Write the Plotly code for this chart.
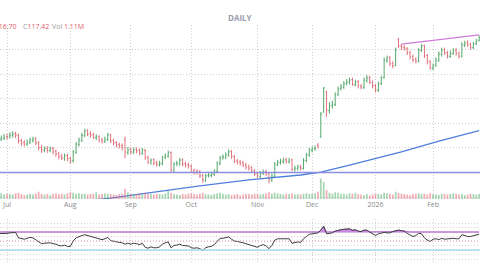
import plotly.graph_objects as go
import pandas as pd

holidays = ["2025-07-04", "2025-09-01", "2025-11-27", "2025-12-25",
            "2026-01-01", "2026-01-19", "2026-02-16"]
dates = [d.strftime("%Y-%m-%d") for d in pd.bdate_range("2025-06-25", "2026-02-25")
         if d.strftime("%Y-%m-%d") not in holidays]

open_ = [96.3, 96.6, 96.8, 97.0, 97.3, 97.2, 97.5, 97.9, 97.5, 96.5, 96.1, 95.8, 96.1, 96.5, 96.9, 96.1,
         95.1, 94.5, 94.9, 94.5, 94.9, 94.3, 93.9, 93.3, 92.9, 93.5, 92.9, 92.4, 94.1, 95.7, 96.5, 97.5,
         98.5, 97.9, 97.7, 97.1, 97.3, 96.7, 96.3, 96.7, 97.7, 96.5, 96.1, 95.7, 95.5, 96.6, 94.1, 94.7,
         94.1, 94.7, 94.5, 93.9, 94.5, 93.1, 92.0, 92.6, 92.0, 91.6, 91.8, 93.1, 93.3, 94.1, 90.4, 91.8,
         91.8, 92.6, 91.8, 91.6, 91.4, 90.4, 90.2, 90.2, 89.4, 88.4, 89.4, 89.4, 89.6, 90.2, 91.8, 93.1,
         93.1, 93.5, 94.3, 93.3, 92.4, 92.2, 92.0, 91.6, 91.2, 91.0, 90.4, 89.8, 89.2, 89.8, 90.2, 89.8,
         88.4, 89.2, 91.6, 92.0, 92.2, 92.6, 92.2, 92.6, 90.6, 90.8, 91.2, 90.8, 92.4, 93.5, 94.5, 94.9,
         95.6, 97.2, 102.3, 106.4, 102.6, 103.6, 103.8, 105.9, 107.1, 107.3, 108.1, 108.3, 108.9, 107.9, 108.5, 107.5,
         107.3, 108.7, 109.3, 108.3, 107.7, 106.7, 108.1, 109.3, 112.8, 113.4, 112.2, 111.8, 117.0, 115.8, 115.4, 115.2,
         114.4, 113.6, 113.0, 112.6, 114.8, 115.8, 113.8, 112.6, 111.2, 111.8, 112.8, 114.0, 115.0, 114.4, 113.6, 114.2,
         114.9, 114.3, 113.6, 115.9, 116.4, 116.1, 115.4, 116.2, 116.8]
high = [97.0, 97.3, 97.5, 97.8, 97.9, 98.2, 98.4, 98.3, 97.9, 96.9, 96.6, 96.7, 97.1, 97.3, 97.2, 96.4,
        95.6, 95.3, 95.4, 95.3, 95.2, 94.7, 94.2, 93.8, 93.9, 93.8, 93.2, 94.6, 96.2, 97.1, 98.1, 98.9,
        98.8, 98.4, 98.1, 97.8, 97.6, 97.1, 97.3, 98.1, 97.9, 96.9, 96.4, 96.1, 95.9, 97.3, 95.2, 95.1,
        95.1, 95.1, 94.9, 95.0, 94.8, 93.4, 92.9, 92.9, 92.4, 92.4, 93.4, 93.9, 94.5, 94.3, 92.1, 92.4,
        93.0, 92.9, 92.2, 92.0, 91.6, 90.8, 90.7, 90.5, 89.7, 89.7, 90.0, 90.2, 90.7, 92.3, 93.4, 93.7,
        94.1, 94.7, 94.6, 93.6, 92.8, 92.6, 92.4, 92.0, 91.6, 91.3, 90.7, 90.2, 90.3, 90.6, 90.6, 90.0,
        89.8, 92.1, 92.6, 92.8, 93.0, 93.0, 93.0, 92.8, 91.4, 91.6, 91.6, 92.9, 94.0, 95.0, 95.3, 95.5,
        96.0, 102.3, 107.4, 106.6, 104.3, 104.6, 106.3, 107.5, 108.0, 108.6, 109.0, 109.3, 109.3, 108.9, 108.8, 108.0,
        109.3, 109.8, 109.7, 108.7, 108.0, 108.5, 109.7, 113.4, 113.8, 113.7, 112.6, 115.4, 117.4, 116.1, 115.9, 115.5,
        114.8, 114.0, 113.4, 115.3, 116.1, 116.0, 114.1, 112.8, 112.2, 113.4, 114.6, 115.4, 115.4, 114.7, 114.8, 115.3,
        115.3, 114.6, 116.5, 116.8, 116.9, 116.4, 116.6, 117.2, 117.9]
low = [95.9, 96.2, 96.4, 96.6, 96.7, 96.9, 97.1, 97.0, 95.9, 95.4, 95.3, 95.4, 95.8, 96.1, 95.6, 94.5,
       94.0, 94.1, 94.0, 94.1, 93.7, 93.2, 92.7, 92.5, 92.4, 92.3, 91.8, 92.0, 93.8, 95.3, 96.2, 97.2,
       97.4, 97.1, 96.8, 96.6, 96.1, 95.9, 96.0, 96.4, 96.0, 95.5, 95.1, 94.9, 94.5, 92.9, 93.6, 93.7,
       93.8, 93.9, 93.5, 93.6, 92.6, 91.7, 91.6, 91.5, 91.2, 91.2, 91.5, 92.7, 93.0, 90.1, 90.1, 91.3,
       91.4, 91.3, 91.0, 90.8, 89.9, 89.6, 89.6, 88.9, 87.9, 88.1, 89.0, 89.0, 89.3, 90.0, 91.5, 92.6,
       92.7, 93.2, 92.8, 91.9, 91.6, 91.4, 91.1, 90.6, 90.4, 89.9, 89.3, 88.8, 88.9, 89.5, 89.3, 87.8,
       88.1, 89.0, 91.3, 91.6, 91.8, 91.8, 91.8, 90.3, 90.2, 90.4, 90.4, 90.6, 92.1, 93.2, 94.1, 94.4,
       94.9, 97.1, 102.2, 101.3, 102.0, 103.0, 103.5, 105.5, 106.7, 107.0, 107.7, 107.9, 107.6, 107.5, 107.1, 106.9,
       107.0, 108.3, 108.0, 107.1, 106.3, 106.4, 107.8, 109.1, 112.3, 111.6, 111.2, 111.6, 115.3, 114.9, 114.8, 113.9,
       113.0, 112.4, 112.2, 112.4, 114.5, 113.3, 112.0, 110.9, 110.8, 111.5, 112.5, 113.6, 113.9, 113.2, 113.3, 113.9,
       113.8, 113.2, 113.4, 115.5, 115.6, 115.0, 115.1, 115.9, 116.70]
close = [96.6, 96.8, 97.0, 97.2, 97.2, 97.6, 97.8, 97.6, 96.4, 96.0, 95.8, 96.2, 96.6, 96.8, 96.0, 95.0,
         94.6, 94.8, 94.6, 94.8, 94.2, 93.8, 93.2, 93.0, 93.4, 92.8, 92.3, 94.2, 95.8, 96.6, 97.6, 98.4,
         97.8, 97.6, 97.2, 97.2, 96.6, 96.4, 96.8, 97.6, 96.4, 96.0, 95.6, 95.4, 95.0, 94.2, 94.6, 94.2,
         94.6, 94.4, 94.0, 94.6, 93.0, 92.1, 92.5, 91.9, 91.7, 91.9, 93.0, 93.4, 94.0, 90.5, 91.7, 91.9,
         92.5, 91.7, 91.5, 91.3, 90.3, 90.1, 90.1, 89.3, 88.5, 89.3, 89.5, 89.7, 90.3, 91.9, 93.0, 93.2,
         93.6, 94.2, 93.2, 92.3, 92.1, 91.9, 91.5, 91.1, 90.9, 90.3, 89.7, 89.3, 89.9, 90.1, 89.7, 88.5,
         89.3, 91.7, 92.1, 92.3, 92.5, 92.3, 92.5, 90.7, 90.9, 91.1, 90.9, 92.5, 93.6, 94.6, 94.8, 95.0,
         95.4, 101.9, 107.2, 102.7, 103.5, 103.9, 105.8, 107.0, 107.4, 108.0, 108.4, 108.8, 108.0, 108.4, 107.6, 107.4,
         108.8, 109.2, 108.4, 107.6, 106.8, 108.0, 109.2, 112.9, 113.3, 112.1, 111.7, 114.9, 115.7, 115.5, 115.3, 114.3,
         113.5, 112.9, 112.7, 114.9, 115.7, 113.7, 112.5, 111.3, 111.7, 112.9, 114.1, 114.9, 114.3, 113.7, 114.3, 114.8,
         114.2, 113.7, 116.0, 116.3, 116.0, 115.5, 116.1, 116.7, 117.42]
volume_m = [1.2, 1.1, 1.3, 1.0, 1.2, 1.1, 1.0, 1.3,
            1.4, 1.1, 0.9, 1.0, 1.2, 1.0, 1.3, 1.6,
            1.2, 1.0, 1.1, 0.9, 1.2, 1.3, 1.1, 1.2,
            1.0, 1.3, 1.5, 1.4, 1.2, 1.3, 1.1, 1.2,
            1.0, 1.1, 1.2, 1.5, 1.0, 1.1, 1.3, 1.2,
            1.1, 1.0, 0.9, 1.1, 1.2, 2.3, 1.5, 1.2,
            1.0, 1.1, 1.3, 1.0, 1.4, 1.2, 1.1, 1.0,
            1.2, 1.1, 1.0, 1.3, 1.8, 1.4, 1.1, 1.0,
            0.9, 1.1, 1.0, 1.2, 1.3, 1.1, 1.0, 1.2,
            1.4, 1.1, 1.0, 0.9, 1.1, 1.3, 1.4, 1.2,
            1.0, 1.1, 0.9, 1.0, 1.1, 0.8, 1.0, 1.2,
            1.1, 1.0, 1.2, 1.1, 1.0, 1.2, 1.3, 1.5,
            1.2, 1.4, 1.3, 1.1, 1.0, 1.2, 1.1, 1.3,
            1.0, 1.1, 1.0, 1.2, 1.3, 1.1, 1.2, 1.3,
            1.6, 4.6, 3.8, 2.0, 1.4, 1.2, 1.5, 1.4,
            1.1, 1.2, 1.0, 1.3, 1.2, 1.4, 1.1, 1.0,
            0.9, 1.1, 0.8, 1.0, 1.2, 1.1, 1.0, 1.4,
            1.3, 1.1, 1.0, 1.6, 1.4, 1.2, 1.1, 1.0,
            0.9, 1.1, 1.2, 1.3, 1.1, 1.2, 1.0, 1.3,
            1.1, 1.0, 0.9, 1.2, 1.1, 1.0, 1.1, 1.3,
            1.2, 1.0, 1.1, 0.9, 1.0, 1.2, 1.1, 1.0, 1.11]
rsi = [66, 66, 67, 67, 67, 68, 69, 69, 57, 55, 54, 56, 58, 57, 52, 47,
       44, 45, 46, 46, 44, 43, 40, 39, 41, 38, 38, 50, 57, 60, 62, 64,
       62, 61, 59, 57, 54, 53, 55, 58, 51, 49, 48, 47, 46, 43, 45, 43,
       45, 44, 42, 45, 36, 34, 37, 35, 35, 37, 43, 46, 48, 35, 40, 41,
       43, 40, 40, 39, 35, 34, 35, 33, 29, 35, 37, 38, 42, 50, 56, 56,
       57, 59, 54, 50, 49, 48, 46, 44, 42, 39, 37, 36, 40, 42, 39, 33,
       40, 52, 55, 55, 56, 55, 55, 45, 46, 48, 47, 55, 60, 65, 66, 67,
       68, 74, 83, 66, 67, 68, 72, 74, 75, 76, 76, 77, 74, 75, 72, 71,
       74, 74, 70, 66, 62, 66, 68, 69, 68, 68, 71, 73, 74, 73, 72, 67,
       63, 60, 62, 67, 66, 57, 52, 49, 54, 55, 53, 56, 54, 55, 56, 56,
       55, 55, 64, 62, 60, 60, 62, 63, 65]

ma_dates = ["2025-06-25", "2025-07-30", "2025-08-21", "2025-09-16", "2025-10-06", "2025-10-29",
            "2025-11-24", "2025-12-04", "2025-12-18", "2026-01-15", "2026-02-04", "2026-02-25"]
ma_values = [82.0, 83.8, 84.8, 86.2, 87.3, 88.5, 89.5, 90.1, 91.5, 94.2, 96.4, 98.5]
trend_dates = ["2026-01-15", "2026-02-25"]
trend_values = [116.1, 118.0]
support_level = 90.0
rsi_levels = [30, 50, 70]
legend_parts = [("L", "116.70"), ("C", "117.42"), ("Vol ", "1.11M")]

# month ticks: first trading day of each month
tick_vals, tick_text = [], []
for k in range(1, len(dates)):
    if dates[k][5:7] != dates[k - 1][5:7]:
        tick_vals.append(dates[k])
        m = pd.Timestamp(dates[k])
        tick_text.append(str(m.year) if m.month == 1 else m.strftime("%b"))

GREEN, RED = "#55a96b", "#e0727c"
vol_colors = ["rgba(95,180,115,0.55)" if c >= o else "rgba(230,110,125,0.55)"
              for o, c in zip(open_, close)]

fig = go.Figure()
fig.add_trace(go.Bar(x=dates, y=[v * 1e6 for v in volume_m], marker_color=vol_colors,
                     marker_line_width=0, yaxis="y3", xaxis="x", width=0.6))
fig.add_trace(go.Ohlc(x=dates, open=open_, high=high, low=low, close=close,
                      increasing_line_color=GREEN, decreasing_line_color=RED,
                      line_width=1, tickwidth=0.35, xaxis="x", yaxis="y"))
fig.add_trace(go.Scatter(x=ma_dates, y=ma_values, mode="lines",
                         line=dict(color="#4f7fdc", width=1.3), xaxis="x", yaxis="y"))
fig.add_trace(go.Scatter(x=trend_dates, y=trend_values, mode="lines",
                         line=dict(color="#d07ad8", width=1.2), xaxis="x", yaxis="y"))
# RSI
fig.add_trace(go.Scatter(x=dates, y=[70] * len(dates), mode="lines",
                         line=dict(color="#c77ddb", width=1.2), xaxis="x2", yaxis="y2"))
fig.add_trace(go.Scatter(x=dates, y=[max(r, 70) for r in rsi], mode="lines", fill="tonexty",
                         fillcolor="rgba(190,110,220,0.75)", line=dict(color="#9a4fb8", width=0.6),
                         xaxis="x2", yaxis="y2"))
fig.add_trace(go.Scatter(x=dates, y=rsi, mode="lines", line=dict(color="#3c3c3c", width=1),
                         xaxis="x2", yaxis="y2"))

fig.add_shape(type="line", xref="paper", x0=0, x1=1, yref="y", y0=support_level, y1=support_level,
              line=dict(color="#8b8fe0", width=1.5))
fig.add_shape(type="line", xref="paper", x0=0, x1=1, yref="y2", y0=rsi_levels[0], y1=rsi_levels[0],
              line=dict(color="#a9d6ef", width=1.5))
fig.add_shape(type="line", xref="paper", x0=0, x1=1, yref="y2", y0=rsi_levels[1], y1=rsi_levels[1],
              line=dict(color="#eea0a0", width=1, dash="1px,2px"))

GRID = "#cfcfcf"
DOT = "1px,2px"
xr = [1.57, 168.3]
common_x = dict(type="category", categoryorder="array", categoryarray=dates, range=xr,
                tickvals=tick_vals, ticktext=tick_text, showgrid=True, gridcolor=GRID,
                griddash=DOT, gridwidth=1, zeroline=False, showline=False, ticks="",
                rangeslider=dict(visible=False), fixedrange=True)
fig.update_layout(
    width=480, height=270, margin=dict(l=0, r=0, t=0, b=0),
    paper_bgcolor="white", plot_bgcolor="white", showlegend=False,
    font=dict(family="Open Sans", size=8, color="#808080"),
    xaxis=dict(**common_x, anchor="y", showticklabels=True,
               tickfont=dict(size=7, color="#8a8a8a")),
    xaxis2=dict(**common_x, anchor="y2", showticklabels=False, matches="x"),
    yaxis=dict(domain=[1 - 199 / 270, 1 - 24.5 / 270], range=[84.62, 120.1], dtick=5, tick0=0,
               showgrid=True, gridcolor=GRID, griddash=DOT, showticklabels=False,
               zeroline=False),
    yaxis3=dict(overlaying="y", range=[0, 39e6], visible=False, showgrid=False),
    yaxis2=dict(domain=[1 - 263.5 / 270, 1 - 218.5 / 270], range=[0, 100], dtick=10,
                showgrid=True, gridcolor="#d8d8d8", griddash=DOT, showticklabels=False,
                zeroline=False),
    bargap=0.4,
)
fig.add_annotation(text="<b>DAILY</b>", xref="paper", yref="paper", x=0.5, y=1 - 17 / 270,
                   showarrow=False, font=dict(size=8, color="#9c9cb0"), xanchor="center", yanchor="middle")
legend_pos = [(18, "right"), (22, "left"), (51, "left")]
for (lab, val), (px, anc) in zip(legend_parts, legend_pos):
    fig.add_annotation(
        text=f"<span style='color:#a0a0a0'>{lab}</span><span style='color:#e0606a'>{val}</span>",
        xref="paper", yref="paper", x=px / 480, y=1 - 27 / 270, showarrow=False,
        font=dict(size=7, family="Open Sans"), xanchor=anc, yanchor="middle", borderpad=0)
fig.write_html("out.html")
